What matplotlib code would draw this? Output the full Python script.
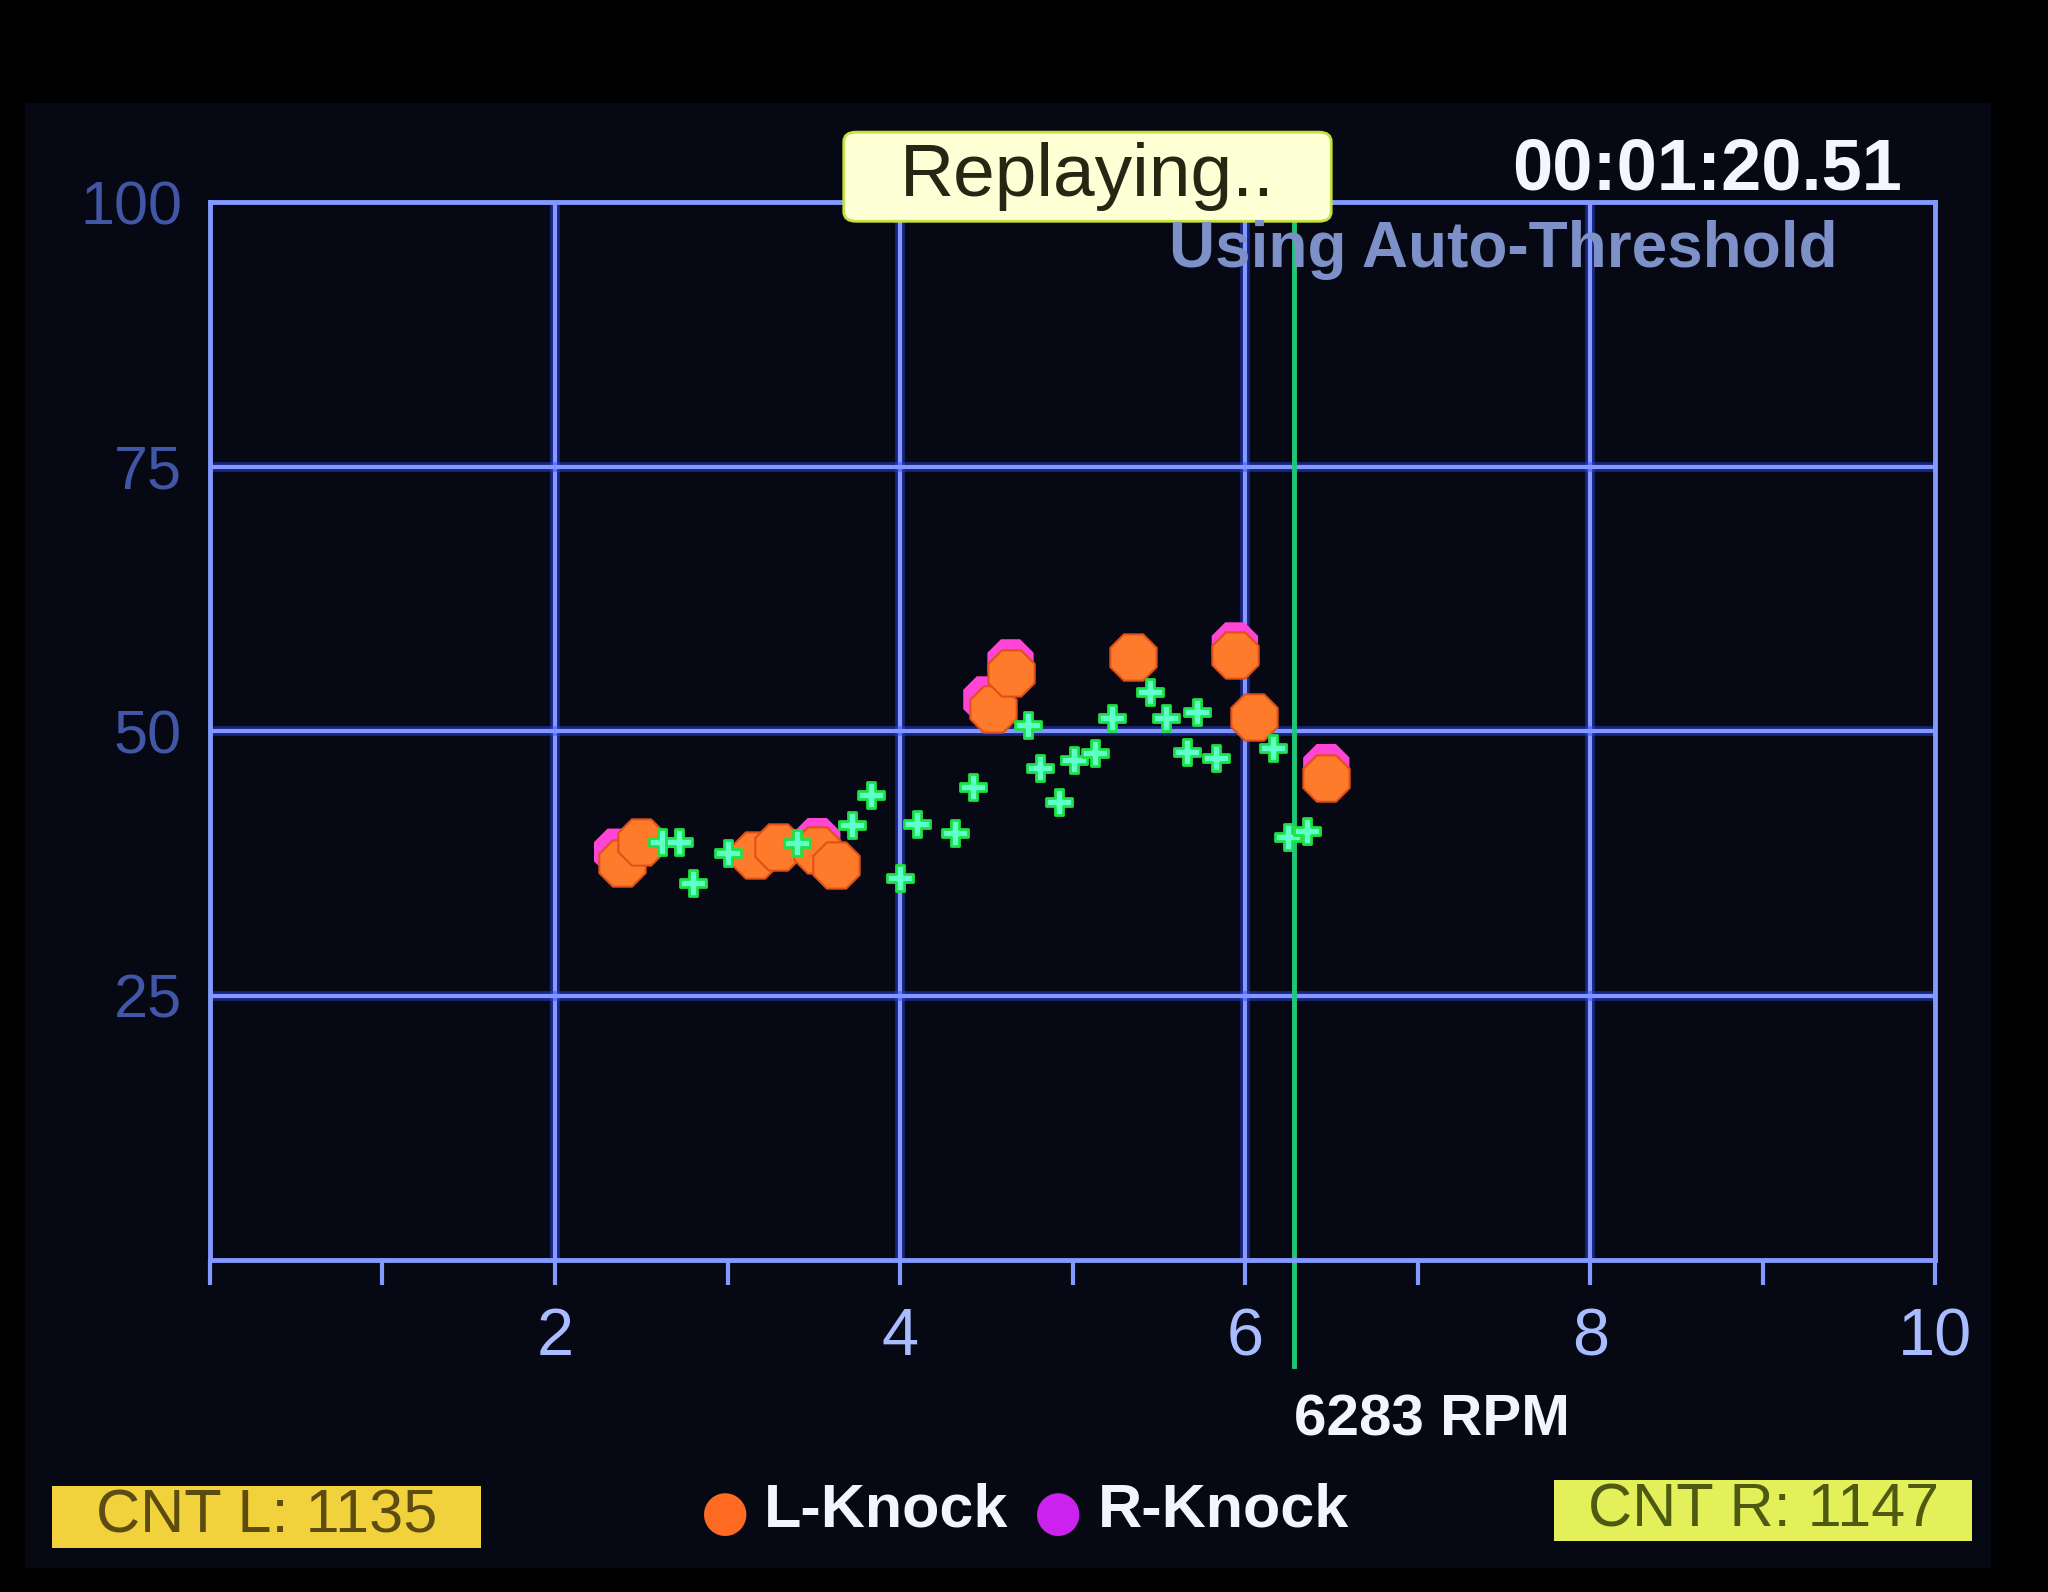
import matplotlib
matplotlib.use("Agg")
import matplotlib.pyplot as plt
from matplotlib.patches import Rectangle, FancyBboxPatch

# knock scope replay: knock level vs engine speed (x1000 rpm)
l_knock_x = [2.39, 2.50, 3.16, 3.29, 3.52, 3.63, 4.54, 4.64, 5.35, 5.94, 6.05, 6.47]
l_knock_y = [37.5, 39.5, 38.3, 39.0, 38.8, 37.3, 52.1, 55.5, 57.0, 57.2, 51.3, 45.6]

r_knock_x = [2.36, 3.52, 4.50, 4.64, 5.94, 6.47]
r_knock_y = [38.6, 39.6, 53.0, 56.5, 58.1, 46.6]

thresh_x = [2.62, 2.72, 2.80, 3.00, 3.40, 3.72, 3.83, 4.00, 4.10, 4.32, 4.42,
            4.74, 4.81, 4.92, 5.01, 5.13, 5.23, 5.45, 5.54, 5.66, 5.72, 5.83,
            6.16, 6.25, 6.36]
thresh_y = [39.5, 39.5, 35.6, 38.5, 39.4, 41.1, 44.0, 36.1, 41.2, 40.4, 44.7,
            50.6, 46.5, 43.3, 47.3, 47.9, 51.2, 53.7, 51.2, 48.0, 51.8, 47.5,
            48.4, 40.0, 40.6]

cursor_rpm = 6283
x_labels = ["2", "4", "6", "8", "10"]
y_labels = ["25", "50", "75", "100"]
cnt_left = 1135
cnt_right = 1147
elapsed = "00:01:20.51"

font = "Liberation Sans"
grid_col = "#8399ff"

fig = plt.figure(figsize=(20.48, 15.92), dpi=100, facecolor="#010102")
# the screen itself, slightly lighter than the bezel
fig.patches.append(Rectangle((0.012, 0.015), 0.96, 0.92, transform=fig.transFigure,
                             facecolor="#060914", edgecolor="none", zorder=-5))

ax = fig.add_axes([0.1025, 0.2085, 0.8425, 0.6645])
ax.set_zorder(2)
ax.set_facecolor("none")
ax.set_xlim(0, 10)
ax.set_ylim(0, 100)

ax.set_xticks(range(2, 11, 2))
ax.set_xticklabels(x_labels)
ax.set_xticks(range(0, 11), minor=True)
ax.set_yticks([25, 50, 75, 100])
ax.set_yticklabels(y_labels)
ax.tick_params(axis="x", which="both", direction="out", length=18, width=3,
               color=grid_col, labelsize=48, labelcolor="#a9bcff", pad=16)
ax.tick_params(axis="y", length=0, labelsize=44, labelcolor="#4256a6", pad=20)
for lab in ax.get_xticklabels() + ax.get_yticklabels():
    lab.set_fontfamily(font)

for v in range(2, 10, 2):
    ax.axvline(v, color="#2f45ff", lw=7, alpha=0.45, zorder=1)
    ax.axvline(v, color=grid_col, lw=3, zorder=1)
for h in (25, 50, 75):
    ax.axhline(h, color="#2f45ff", lw=7, alpha=0.45, zorder=1)
    ax.axhline(h, color=grid_col, lw=3, zorder=1)
for s in ax.spines.values():
    s.set_color(grid_col)
    s.set_linewidth(3.5)

# cursor line at current rpm
ax.plot([cursor_rpm / 1000] * 2, [-10, 100], color="#1fc878", lw=3.5,
        clip_on=False, zorder=2)

ax.scatter(r_knock_x, r_knock_y, marker="8", s=1300, color="#ff45d6",
           edgecolor="none", zorder=4)
ax.scatter(l_knock_x, l_knock_y, marker="8", s=1300, color="#ff7b2c",
           edgecolor="#e0501a", linewidth=1.5, zorder=5)
ax.scatter(thresh_x, thresh_y, marker="P", s=330, facecolor="#5effc8",
           edgecolor="#1fe046", linewidth=2, zorder=6)

# status banner on top, drawn over the plot frame
banner = fig.add_axes([0, 0, 1, 1], facecolor="none")
banner.set_zorder(5)
banner.axis("off")
banner.add_patch(FancyBboxPatch((0.415, 0.864), 0.232, 0.050,
                                boxstyle="round,pad=0.003,rounding_size=0.006",
                                transform=fig.transFigure, facecolor="#fdffd4",
                                edgecolor="#c8e040", linewidth=2))
banner.text(0.531, 0.889, "Replaying..", ha="center", va="center", fontsize=54,
            family=font, color="#262612", transform=fig.transFigure)
banner.text(0.8335, 0.893, elapsed, ha="center", va="center", fontsize=52,
            family=font, fontweight="bold", color="#f4f6ff", transform=fig.transFigure)
banner.text(0.734, 0.843, "Using Auto-Threshold", ha="center", va="center",
            fontsize=46, family=font, fontweight="bold", color="#7e90c8",
            transform=fig.transFigure)

fig.text(0.699, 0.108, f"{cursor_rpm} RPM", ha="center", va="center",
         fontsize=42, family=font, fontweight="bold", color="#f2f4ff")

# legend row
fig.text(0.354, 0.049, "\u25CF", ha="center", va="center", fontsize=40, color="#ff6a22")
fig.text(0.373, 0.051, "L-Knock", ha="left", va="center", fontsize=44,
         family=font, fontweight="bold", color="#f2f4ff")
fig.text(0.5166, 0.049, "\u25CF", ha="center", va="center", fontsize=40, color="#cc22ee")
fig.text(0.536, 0.051, "R-Knock", ha="left", va="center", fontsize=44,
         family=font, fontweight="bold", color="#f2f4ff")

# hit counters
fig.patches.append(Rectangle((0.0254, 0.0276), 0.2095, 0.039, transform=fig.transFigure,
                             facecolor="#f2d23c", edgecolor="none", zorder=1))
fig.text(0.130, 0.047, f"CNT L: {cnt_left}", ha="center", va="center", fontsize=44,
         family=font, color="#5c4c12", zorder=3)
fig.patches.append(Rectangle((0.759, 0.032), 0.204, 0.0384, transform=fig.transFigure,
                             facecolor="#e4f05a", edgecolor="none", zorder=1))
fig.text(0.861, 0.051, f"CNT R: {cnt_right}", ha="center", va="center", fontsize=44,
         family=font, color="#4e5a12", zorder=3)

fig.savefig("out.png", dpi=100, facecolor=fig.get_facecolor())
